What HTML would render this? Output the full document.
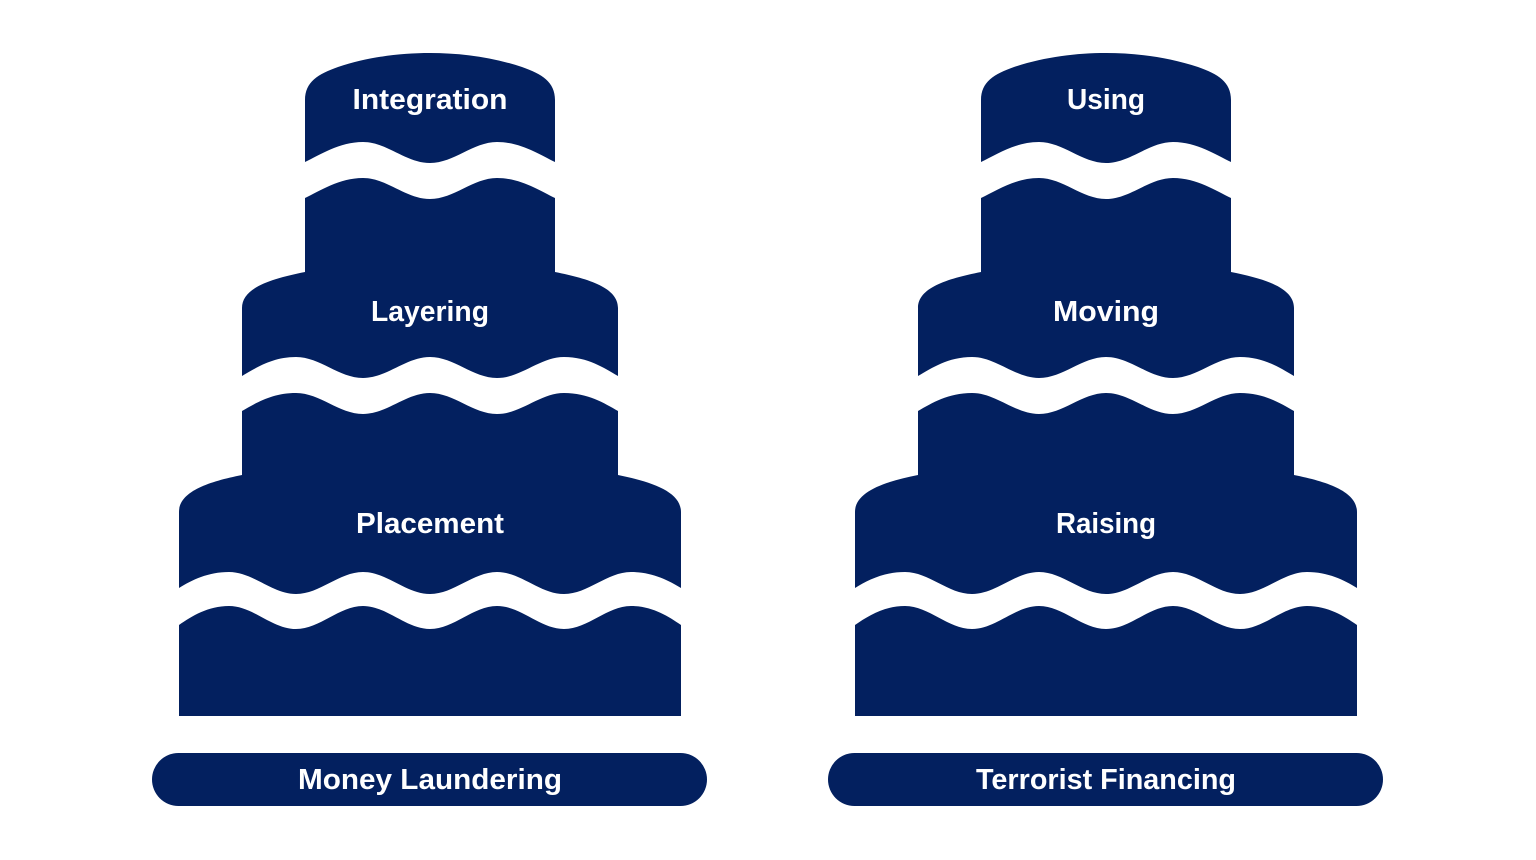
<!DOCTYPE html>
<html><head><meta charset="utf-8"><style>
html,body{margin:0;padding:0;background:#fff;}
svg{display:block;}
text{font-family:"Liberation Sans",sans-serif;font-weight:bold;fill:#fff;text-anchor:middle;dominant-baseline:central;}
</style></head><body>
<svg width="1536" height="860" viewBox="0 0 1536 860" xmlns="http://www.w3.org/2000/svg">
<defs>
<g id="cake" fill="#03205f">
<path d="M305,100 C305,82 318,74 338,67 C368,57 400,53 430,53 C460,53 492,57 522,67 C542,74 555,82 555,100 L555,162 C540,155 521,142 497,142 C473,142 454,163 430,163 C406,163 387,142 363,142 C339,142 320,155 305,162 Z"/>
<path d="M305,198 C320,191 339,178 363,178 C387,178 406,199 430,199 C454,199 473,178 497,178 C521,178 540,191 555,198 L555,272 C590,279 618,288 618,308 L618,376 C604,368 588,357 564,357 C540,357 521,378 497,378 C473,378 454,357 430,357 C406,357 387,378 363,378 C339,378 320,357 296,357 C272,357 256,368 242,376 L242,308 C242,288 270,279 305,272 Z"/>
<path d="M242,411 C256,403 272,393 296,393 C320,393 339,414 363,414 C387,414 406,393 430,393 C454,393 473,414 497,414 C521,414 540,393 564,393 C588,393 604,403 618,411 L618,475 C653,482 681,492 681,512 L681,588 C668,580 652,572 631,572 C607,572 588,594 564,594 C540,594 521,572 497,572 C473,572 454,594 430,594 C406,594 387,572 363,572 C339,572 320,594 296,594 C272,594 253,572 229,572 C208,572 192,580 179,588 L179,512 C179,492 207,482 242,475 Z"/>
<path d="M179,625 C192,616 208,606 229,606 C253,606 272,629 296,629 C320,629 339,606 363,606 C387,606 406,629 430,629 C454,629 473,606 497,606 C521,606 540,629 564,629 C588,629 607,606 631,606 C652,606 668,616 681,625 L681,716 L179,716 Z"/>
<rect x="152" y="753" width="555" height="53" rx="26.5"/>
</g>
</defs>
<use href="#cake"/>
<use href="#cake" transform="translate(676,0)"/>
<g font-size="29">
<text x="430" y="100" textLength="155" lengthAdjust="spacingAndGlyphs">Integration</text>
<text x="430" y="312" textLength="118" lengthAdjust="spacingAndGlyphs">Layering</text>
<text x="430" y="524" textLength="148" lengthAdjust="spacingAndGlyphs">Placement</text>
<text x="430" y="780" textLength="264" lengthAdjust="spacingAndGlyphs">Money Laundering</text>
<text x="1106" y="100" textLength="78" lengthAdjust="spacingAndGlyphs">Using</text>
<text x="1106" y="312" textLength="106" lengthAdjust="spacingAndGlyphs">Moving</text>
<text x="1106" y="524" textLength="100" lengthAdjust="spacingAndGlyphs">Raising</text>
<text x="1106" y="780" textLength="260" lengthAdjust="spacingAndGlyphs">Terrorist Financing</text>
</g>
</svg>
</body></html>
